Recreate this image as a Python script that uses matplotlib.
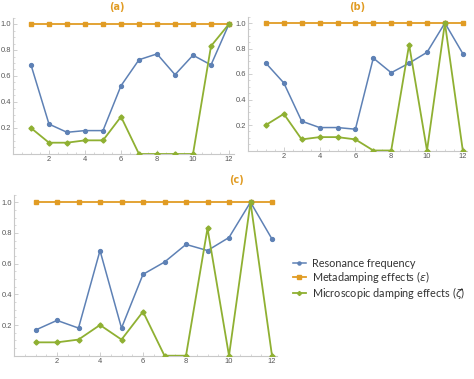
import matplotlib
matplotlib.use("Agg")
import matplotlib.pyplot as plt
from matplotlib.ticker import MultipleLocator

x = list(range(1, 13))
meta = [1.0] * 12

blue_a = [0.685, 0.23, 0.167, 0.18, 0.18, 0.525, 0.725, 0.77, 0.61, 0.76, 0.685, 1.0]
green_a = [0.2, 0.087, 0.087, 0.105, 0.105, 0.287, 0.0, 0.0, 0.0, 0.0, 0.83, 1.0]

blue_b = [0.685, 0.53, 0.23, 0.18, 0.18, 0.167, 0.725, 0.61, 0.685, 0.77, 1.0, 0.76]
green_b = [0.2, 0.287, 0.087, 0.105, 0.105, 0.087, 0.0, 0.0, 0.83, 0.0, 1.0, 0.0]

blue_c = [0.167, 0.23, 0.18, 0.685, 0.18, 0.53, 0.61, 0.725, 0.685, 0.77, 1.0, 0.76]
green_c = [0.087, 0.087, 0.105, 0.2, 0.105, 0.287, 0.0, 0.0, 0.83, 0.0, 1.0, 0.0]

titles = ["(a)", "(b)", "(c)"]
labels = ["Resonance frequency", "Metadamping effects ($\\varepsilon$)",
          "Microscopic damping effects ($\\zeta$)"]

C_BLUE = "#5E81B5"
C_ORANGE = "#E19C24"
C_GREEN = "#8FB032"
AX_GRAY = "#C8C8C8"
TXT_GRAY = "#555555"

W, H = 474, 379
fig = plt.figure(figsize=(W / 100, H / 100), dpi=100)

def px_axes(x0px, y0px, unit_x, unit_y, xmax=12.25, ymax=1.05):
    width = xmax * unit_x
    height = ymax * unit_y
    return fig.add_axes([x0px / W, (H - y0px) / H, width / W, height / H])

axes = [
    px_axes(13, 154, 18.0, 130.0),
    px_axes(248, 150.5, 17.9, 127.5),
    px_axes(14, 355.7, 21.5, 153.5),
]

data = [(blue_a, green_a), (blue_b, green_b), (blue_c, green_c)]
handles = None
for ax, (b, g) in zip(axes, data):
    h1, = ax.plot(x, b, color=C_BLUE, lw=1.1, marker="o", ms=2.8, zorder=3, label=labels[0])
    h2, = ax.plot(x, meta, color=C_ORANGE, lw=1.3, marker="s", ms=2.8, zorder=2, label=labels[1])
    h3, = ax.plot(x, g, color=C_GREEN, lw=1.3, marker="D", ms=2.6, zorder=4, label=labels[2])
    handles = [h1, h2, h3]
    ax.set_xlim(0, 12.25)
    ax.set_ylim(0, 1.05)
    for s in ["top", "right"]:
        ax.spines[s].set_visible(False)
    for s in ["left", "bottom"]:
        ax.spines[s].set_color(AX_GRAY)
        ax.spines[s].set_linewidth(0.8)
    ax.set_xticks([2, 4, 6, 8, 10, 12])
    ax.set_yticks([0.2, 0.4, 0.6, 0.8, 1.0])
    ax.set_yticklabels(["0.2", "0.4", "0.6", "0.8", "1.0"])
    ax.xaxis.set_minor_locator(MultipleLocator(0.5))
    ax.yaxis.set_minor_locator(MultipleLocator(0.05))
    ax.tick_params(axis="both", which="major", direction="in", length=3, width=0.6,
                   color=AX_GRAY, labelsize=5.4, labelcolor=TXT_GRAY, pad=1.5)
    ax.tick_params(axis="both", which="minor", direction="in", length=1.5, width=0.5,
                   color=AX_GRAY)
    for lab in ax.get_xticklabels() + ax.get_yticklabels():
        lab.set_fontfamily("Liberation Sans")
    ax.patch.set_alpha(0)

fig.text(117 / W, 1 - 7 / H, titles[0], color=C_ORANGE, fontsize=7, fontweight="bold",
         ha="center", va="center")
fig.text(357 / W, 1 - 7 / H, titles[1], color=C_ORANGE, fontsize=7, fontweight="bold",
         ha="center", va="center")
fig.text(237 / W, 1 - 180 / H, titles[2], color=C_ORANGE, fontsize=7, fontweight="bold",
         ha="center", va="center")

fig.legend(handles, labels, loc="upper left", bbox_to_anchor=(283 / W, 1 - 248 / H),
           frameon=False, prop={"family": "Lato", "size": 7.8}, handlelength=1.2,
           handletextpad=0.6, labelspacing=0.0, markerscale=0.8, labelcolor="#333333")

fig.savefig("out.png", dpi=100)
